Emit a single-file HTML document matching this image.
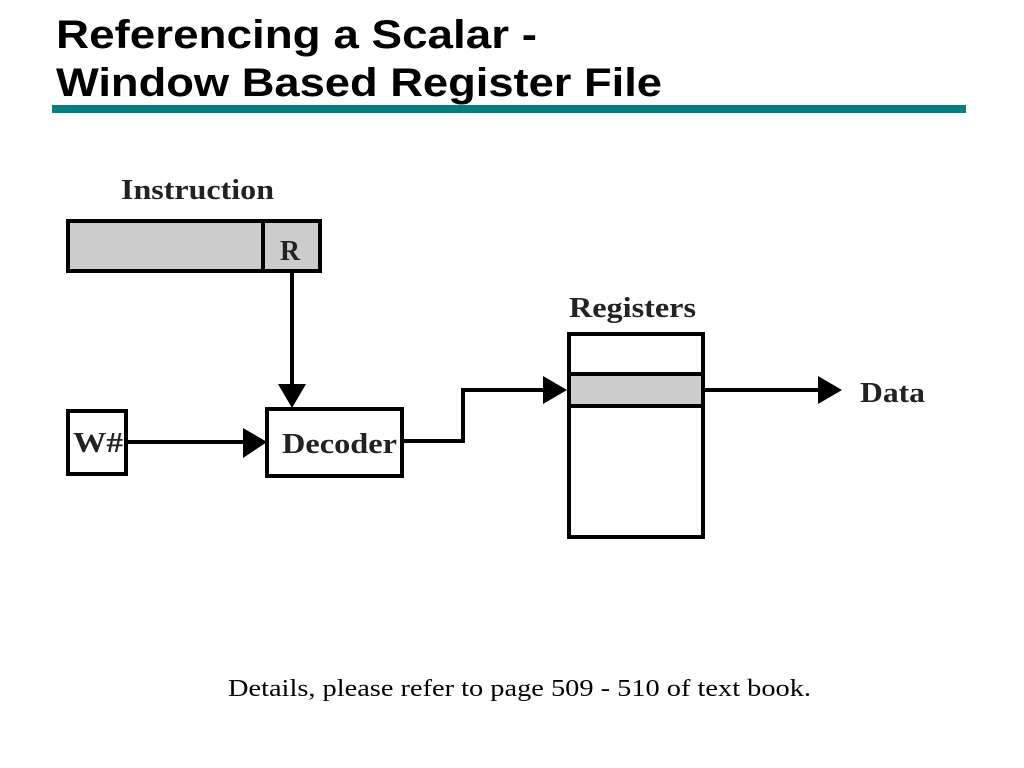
<!DOCTYPE html>
<html><head><style>
html,body{margin:0;padding:0;background:#fff;}
</style></head><body>
<svg width="1024" height="768" xmlns="http://www.w3.org/2000/svg" style="display:block">
<text x="56" y="48" font-family="Liberation Sans, Arial, sans-serif" font-weight="bold" font-size="40" textLength="481" lengthAdjust="spacingAndGlyphs">Referencing a Scalar -</text>
<text x="56" y="96" font-family="Liberation Sans, Arial, sans-serif" font-weight="bold" font-size="40" textLength="606" lengthAdjust="spacingAndGlyphs">Window Based Register File</text>
<rect x="52" y="105" width="914" height="8" fill="#008080"/>

<g font-family="Liberation Serif, Times New Roman, serif" font-weight="bold" fill="#222">
<text x="121" y="199" font-size="28" textLength="153" lengthAdjust="spacingAndGlyphs">Instruction</text>
<text x="569" y="317" font-size="28" textLength="127" lengthAdjust="spacingAndGlyphs">Registers</text>
<text x="860" y="402" font-size="28" textLength="65" lengthAdjust="spacingAndGlyphs">Data</text>
</g>

<g stroke="#000" stroke-width="4" fill="none">
<rect x="68" y="221" width="252" height="50" fill="#cccccc"/>
<line x1="263" y1="221" x2="263" y2="271"/>
<rect x="68" y="411" width="58" height="63" fill="#fff"/>
<rect x="267" y="409" width="135" height="67" fill="#fff"/>
<rect x="569" y="334" width="134" height="203" fill="#fff"/>
<rect x="569" y="374" width="134" height="32" fill="#cccccc"/>
<line x1="292" y1="271" x2="292" y2="386"/>
<line x1="126" y1="442" x2="246" y2="442"/>
<polyline points="402,441 463,441 463,390 546,390"/>
<line x1="703" y1="390" x2="821" y2="390"/>
</g>
<g fill="#000">
<polygon points="278,384 306,384 292,408"/>
<polygon points="243,428 267,442 243,458"/>
<polygon points="543,376 567,390 543,404"/>
<polygon points="818,376 842,390 818,404"/>
</g>
<g font-family="Liberation Serif, Times New Roman, serif" font-weight="bold" fill="#222" font-size="28">
<text x="280" y="260" textLength="20" lengthAdjust="spacingAndGlyphs">R</text>
<text x="73" y="452" textLength="50" lengthAdjust="spacingAndGlyphs">W#</text>
<text x="282" y="453" textLength="115" lengthAdjust="spacingAndGlyphs">Decoder</text>
</g>
<text x="228" y="696" font-family="Liberation Serif, Times New Roman, serif" font-size="24" textLength="583" lengthAdjust="spacingAndGlyphs">Details, please refer to page 509 - 510 of text book.</text>
</svg>
</body></html>
